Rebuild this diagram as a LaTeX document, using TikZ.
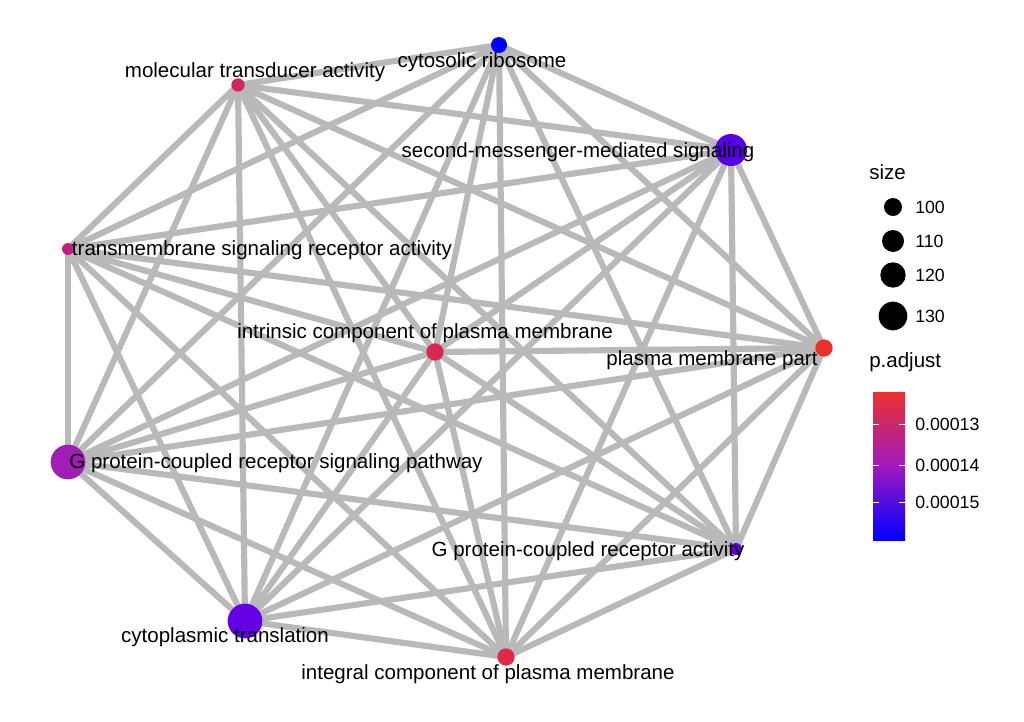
\documentclass[tikz,border=0pt]{standalone}
\usepackage{fontspec}
\setmainfont{Liberation Sans}
\begin{document}
\begin{tikzpicture}[x=0.75pt,y=-0.75pt,
  edge/.style={line width=4.6pt,draw=gray!55!white},
  nd/.style={circle,inner sep=0pt},
  lab/.style={font=\fontsize{15.4}{17}\selectfont,inner sep=0pt},
  leg/.style={font=\fontsize{13.3}{15}\selectfont,inner sep=0pt,anchor=west}]
\useasboundingbox (0,0) rectangle (1024,721);
\definecolor{cA}{RGB}{0,0,255}\definecolor{cB}{RGB}{210,38,100}
\definecolor{cC}{RGB}{85,0,230}\definecolor{cD}{RGB}{190,30,130}
\definecolor{cE}{RGB}{220,40,80}\definecolor{cF}{RGB}{235,50,40}
\definecolor{cG}{RGB}{160,30,180}\definecolor{cH}{RGB}{95,0,220}
\definecolor{cI}{RGB}{100,0,230}\definecolor{cJ}{RGB}{222,42,72}
\definecolor{lred}{RGB}{235,50,45}\definecolor{lmid}{RGB}{160,25,190}
\coordinate (A) at (499,45);\coordinate (B) at (238,85);
\coordinate (C) at (731,150);\coordinate (D) at (68,249);
\coordinate (E) at (435,352);\coordinate (F) at (824,348);
\coordinate (G) at (68,462);\coordinate (H) at (736,549);
\coordinate (I) at (245,621);\coordinate (J) at (506,657);
\foreach \a/\b in {A/B,A/C,A/D,A/E,A/F,A/G,A/H,A/I,A/J,B/C,B/D,B/E,B/F,B/G,B/H,B/I,B/J,C/D,C/E,C/F,C/G,C/H,C/I,C/J,D/E,D/F,D/G,D/H,D/I,D/J,E/F,E/G,E/H,E/I,E/J,F/G,F/H,F/I,F/J,G/H,G/I,G/J,H/I,H/J,I/J}
  \draw[edge] (\a) -- (\b);
\node[nd,fill=cA,minimum size=12pt] (nA) at (A) {};
\node[nd,fill=cB,minimum size=10pt] (nB) at (B) {};
\node[nd,fill=cC,minimum size=24pt] (nC) at (C) {};
\node[nd,fill=cD,minimum size=9pt] (nD) at (D) {};
\node[nd,fill=cE,minimum size=13pt] (nE) at (E) {};
\node[nd,fill=cF,minimum size=13pt] (nF) at (F) {};
\node[nd,fill=cG,minimum size=26pt] (nG) at (G) {};
\node[nd,fill=cH,minimum size=9pt] (nH) at (H) {};
\node[nd,fill=cI,minimum size=26pt] (nI) at (I) {};
\node[nd,fill=cJ,minimum size=13pt] (nJ) at (J) {};
\node[lab] (tA) at (482,62) {cytosolic ribosome};
\node[lab] (tB) at (255,72) {molecular transducer activity};
\node[lab] (tC) at (578,152) {second-messenger-mediated signaling};
\node[lab] (tD) at (262,250) {transmembrane signaling receptor activity};
\node[lab] (tE) at (425,333) {intrinsic component of plasma membrane};
\node[lab] (tF) at (712,360) {plasma membrane part};
\node[lab] (tG) at (276,463) {G protein-coupled receptor signaling pathway};
\node[lab] (tH) at (588,551) {G protein-coupled receptor activity};
\node[lab] (tI) at (225,637) {cytoplasmic translation};
\node[lab] (tJ) at (488,674) {integral component of plasma membrane};
% legend
\node[lab,anchor=west] (ls) at (869,172) {size};
\node[nd,fill=black,minimum size=13.5pt] (s1) at (893,207) {};
\node[nd,fill=black,minimum size=16.5pt] (s2) at (893,241) {};
\node[nd,fill=black,minimum size=19pt] (s3) at (893,275) {};
\node[nd,fill=black,minimum size=21.5pt] (s4) at (893,316) {};
\node[leg] at (915,207) {100};\node[leg] at (915,241) {110};
\node[leg] at (915,275) {120};\node[leg] at (915,316) {130};
\node[lab,anchor=west] (lp) at (869,362) {p.adjust};
\shade[top color=lred,bottom color=lmid] (873,392) rectangle (905,466);
\shade[top color=lmid,bottom color=blue] (873,466) rectangle (905,540);
\foreach \y/\t in {424/0.00013,465/0.00014,502/0.00015}{
  \draw[white,line width=0.6pt] (873,\y) -- (879,\y) (899,\y) -- (905,\y);
  \node[leg] at (915,\y) {\t};}
\end{tikzpicture}
\end{document}
